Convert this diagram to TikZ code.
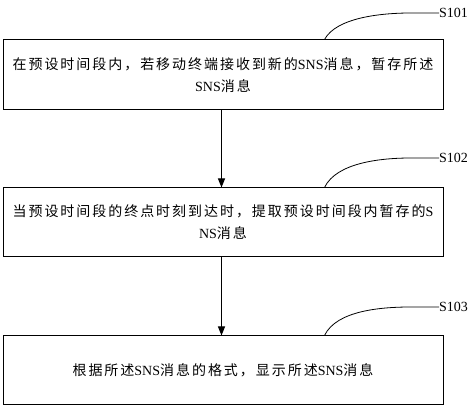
\documentclass[tikz,border=0pt]{standalone}
\usepackage{fontspec}
\setmainfont{Liberation Serif}
\newfontfamily\cjk[LetterSpace=14]{Noto Sans CJK SC}
\newcommand\zh[1]{{\cjk #1}}
\usetikzlibrary{arrows.meta,calc}
\begin{document}
\begin{tikzpicture}[x=1pt,y=-1pt,
  stepbox/.style={draw,line width=1pt,minimum width=440pt,align=center,font=\fontsize{14pt}{22pt}\selectfont,inner sep=0pt},
  lbl/.style={anchor=west,font=\fontsize{14pt}{16pt}\selectfont,inner sep=0pt},
  flow/.style={line width=1pt,-{Triangle[length=9pt,width=7pt]}},
  lead/.style={line width=0.8pt}]
\useasboundingbox (0,0) rectangle (474,411);
\node[stepbox,minimum height=70pt] (b1) at (223,75) {\zh{在预设时间段内，若移动终端接收到新的}SNS\zh{消息，暂存所述}\\SNS\zh{消息}};
\node[stepbox,minimum height=69pt] (b2) at (223,222.5) {\zh{当预设时间段的终点时刻到达时，提取预设时间段内暂存的}S\\NS\zh{消息}};
\node[stepbox,minimum height=69pt] (b3) at (223,370.5) {\zh{根据所述}SNS\zh{消息的格式，显示所述}SNS\zh{消息}};
\node[lbl] (l1) at (439,13) {S101};
\node[lbl] (l2) at (439,158) {S102};
\node[lbl] (l3) at (439,307) {S103};
\draw[flow] ($(b1.south west)+(219,0)$) -- ($(b2.north west)+(219,0)$);
\draw[flow] ($(b2.south west)+(219,0)$) -- ($(b3.north west)+(219,0)$);
\draw[lead] ($(b1.north west)+(322,0)$) .. controls +(12,-22) and +(-30,0) .. ($(l1.west)+(-28,0)$) -- (l1.west);
\draw[lead] ($(b2.north west)+(322,0)$) .. controls +(12,-25) and +(-30,0) .. ($(l2.west)+(-28,0)$) -- (l2.west);
\draw[lead] ($(b3.north west)+(322,0)$) .. controls +(12,-25) and +(-30,0) .. ($(l3.west)+(-28,0)$) -- (l3.west);
\end{tikzpicture}
\end{document}
